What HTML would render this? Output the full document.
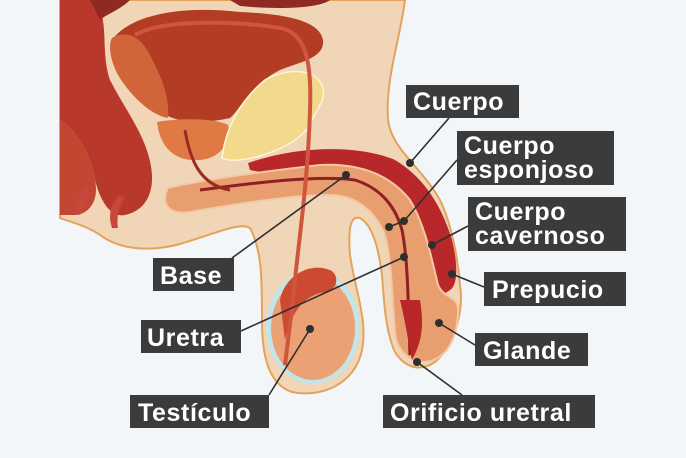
<!DOCTYPE html>
<html><head><meta charset="utf-8"><style>
html,body{margin:0;padding:0;background:#f2f6f8;}
svg{display:block}
.lb{fill:#3b3b3b}
.t{font-family:"Liberation Sans",sans-serif;font-size:25px;font-weight:bold;fill:#fff;letter-spacing:0.6px}
.ln{stroke:#2f2f2f;stroke-width:1.6;fill:none}
.d{fill:#2f2f2f}
</style></head><body>
<svg width="686" height="458" viewBox="0 0 686 458" xmlns="http://www.w3.org/2000/svg">
<rect width="686" height="458" fill="#f2f6f8"/>
<!-- body silhouette -->
<path d="M60,0 L405,0 C400,40 385,80 388,120 C392,150 420,165 440,200 C452,225 458,260 460,285 C464,310 455,345 435,362 C420,372 405,368 395,352 C385,330 384,300 382,275 C378,245 372,225 360,218 C350,215 348,230 350,255 C355,290 368,320 362,350 C355,385 320,398 292,392 C268,384 262,355 262,320 C262,280 262,250 250,228 C240,222 220,232 180,244 C150,252 120,250 100,235 C85,225 70,222 60,218 Z" fill="#f0d5b6" stroke="#e3a35c" stroke-width="2"/>
<!-- rectum -->
<path d="M60,0 L95,0 C110,20 100,50 110,80 C125,110 150,140 152,175 C153,200 140,212 125,215 C110,218 100,200 95,180 C90,150 75,130 60,120 Z" fill="#b8392b"/>
<path d="M60,120 C75,130 90,150 95,180 C100,205 85,215 75,215 L60,215 Z" fill="#c24632"/>
<path d="M90,0 L130,0 C120,10 105,15 100,20 Z" fill="#8f2a22"/>
<path d="M230,0 L330,0 C320,8 280,10 240,6 Z" fill="#8f2a22"/>
<!-- bladder -->
<path d="M112,40 C130,15 180,5 240,12 C290,14 320,22 323,40 C325,58 300,62 280,70 C250,85 240,110 230,118 C200,125 170,122 160,110 C140,90 112,70 112,40 Z" fill="#b23c24"/>
<path d="M112,38 C125,30 140,35 150,55 C160,75 170,95 168,118 C150,115 130,95 118,75 C110,60 108,45 112,38 Z" fill="#d2643a"/>
<!-- prostate -->
<path d="M157,122 C180,118 215,118 228,125 C232,140 222,158 200,160 C175,162 160,148 157,122 Z" fill="#e07a45"/>
<!-- pubic bone -->
<path d="M222,158 C225,130 240,100 265,80 C285,68 315,68 322,85 C328,100 315,110 310,125 C300,140 280,150 260,156 C245,160 230,162 222,158 Z" fill="#f2d98c" stroke="#fff3d8" stroke-width="1.5"/>
<!-- left small muscles -->
<path d="M85,185 C78,195 75,205 72,212 L80,215 C86,205 90,195 88,187 Z" fill="#c8463a"/>
<path d="M120,195 C110,205 108,215 112,228 L118,228 C116,215 120,205 125,198 Z" fill="#c8463a"/>
<!-- corpus cavernosum -->
<path d="M248,163 C300,145 360,145 395,160 C420,175 440,200 452,240 C458,265 458,285 450,290 L435,300 C430,275 420,240 405,215 C390,195 365,178 330,175 C300,172 270,175 250,170 Z" fill="#b8282a"/>
<!-- spongy body -->
<path d="M168,188 C200,180 260,172 320,165 C360,163 390,175 410,200 C425,225 432,260 438,285 C445,300 458,295 458,310 C458,340 445,360 425,362 C405,362 395,345 395,330 C392,300 392,260 385,235 C375,210 355,195 330,195 C290,195 230,205 190,212 C170,215 160,205 168,188 Z" fill="#e89e6e" stroke="#f3c8a4" stroke-width="2"/>
<path d="M200,190 C260,182 320,175 355,180 C380,188 395,205 402,230 C408,260 408,300 410,355" fill="none" stroke="#8e1f22" stroke-width="3"/>
<path d="M400,300 C405,320 408,340 412,360 C420,345 425,330 420,300 Z" fill="#b8282a"/>
<!-- testis -->
<ellipse cx="313" cy="327" rx="47" ry="57" fill="#c3e5e8"/>
<ellipse cx="313" cy="328" rx="42" ry="52" fill="#eba173"/>
<path d="M280,300 C285,275 310,262 330,270 C340,275 338,290 325,292 C305,295 292,310 285,340 Z" fill="#cc4a32"/>
<!-- vas deferens -->
<path d="M135,35 C160,20 230,20 280,28 C305,32 312,60 310,110 C308,180 300,230 295,280 C292,310 288,340 285,365" fill="none" stroke="#d0553e" stroke-width="4"/>
<path d="M185,130 C190,160 200,185 230,190" fill="none" stroke="#9b2a25" stroke-width="3"/>
<!-- connectors -->
<path class="ln" d="M410,163 L449,118"/>
<path class="ln" d="M389,227 L404,221 L457,160"/>
<path class="ln" d="M432,245 L468,226"/>
<path class="ln" d="M452,274 L484,287"/>
<path class="ln" d="M439,323 L475,345"/>
<path class="ln" d="M417,362 L462,395"/>
<path class="ln" d="M346,175 L232,258"/>
<path class="ln" d="M404,257 L241,331"/>
<path class="ln" d="M310,329 L269,395"/>
<g class="d">
<circle cx="410" cy="163" r="4"/><circle cx="389" cy="227" r="4"/><circle cx="404" cy="221" r="4"/>
<circle cx="432" cy="245" r="4"/><circle cx="452" cy="274" r="4"/><circle cx="439" cy="323" r="4"/>
<circle cx="417" cy="362" r="4"/><circle cx="346" cy="175" r="4"/><circle cx="404" cy="257" r="4"/>
<circle cx="310" cy="329" r="4"/>
</g>
<!-- labels -->
<rect class="lb" x="406" y="85" width="113" height="33"/><text class="t" x="413" y="110">Cuerpo</text>
<rect class="lb" x="457" y="131" width="157" height="54"/><text class="t" x="464" y="154">Cuerpo</text><text class="t" x="464" y="178">esponjoso</text>
<rect class="lb" x="468" y="197" width="158" height="54"/><text class="t" x="475" y="220">Cuerpo</text><text class="t" x="475" y="244">cavernoso</text>
<rect class="lb" x="484" y="272" width="142" height="34"/><text class="t" x="492" y="298">Prepucio</text>
<rect class="lb" x="475" y="333" width="113" height="33"/><text class="t" x="483" y="359">Glande</text>
<rect class="lb" x="383" y="395" width="212" height="33"/><text class="t" x="390" y="421">Orificio uretral</text>
<rect class="lb" x="153" y="258" width="81" height="33"/><text class="t" x="160" y="284">Base</text>
<rect class="lb" x="141" y="320" width="100" height="33"/><text class="t" x="147" y="346">Uretra</text>
<rect class="lb" x="130" y="395" width="139" height="33"/><text class="t" x="138" y="421">Testículo</text>
</svg>
</body></html>
